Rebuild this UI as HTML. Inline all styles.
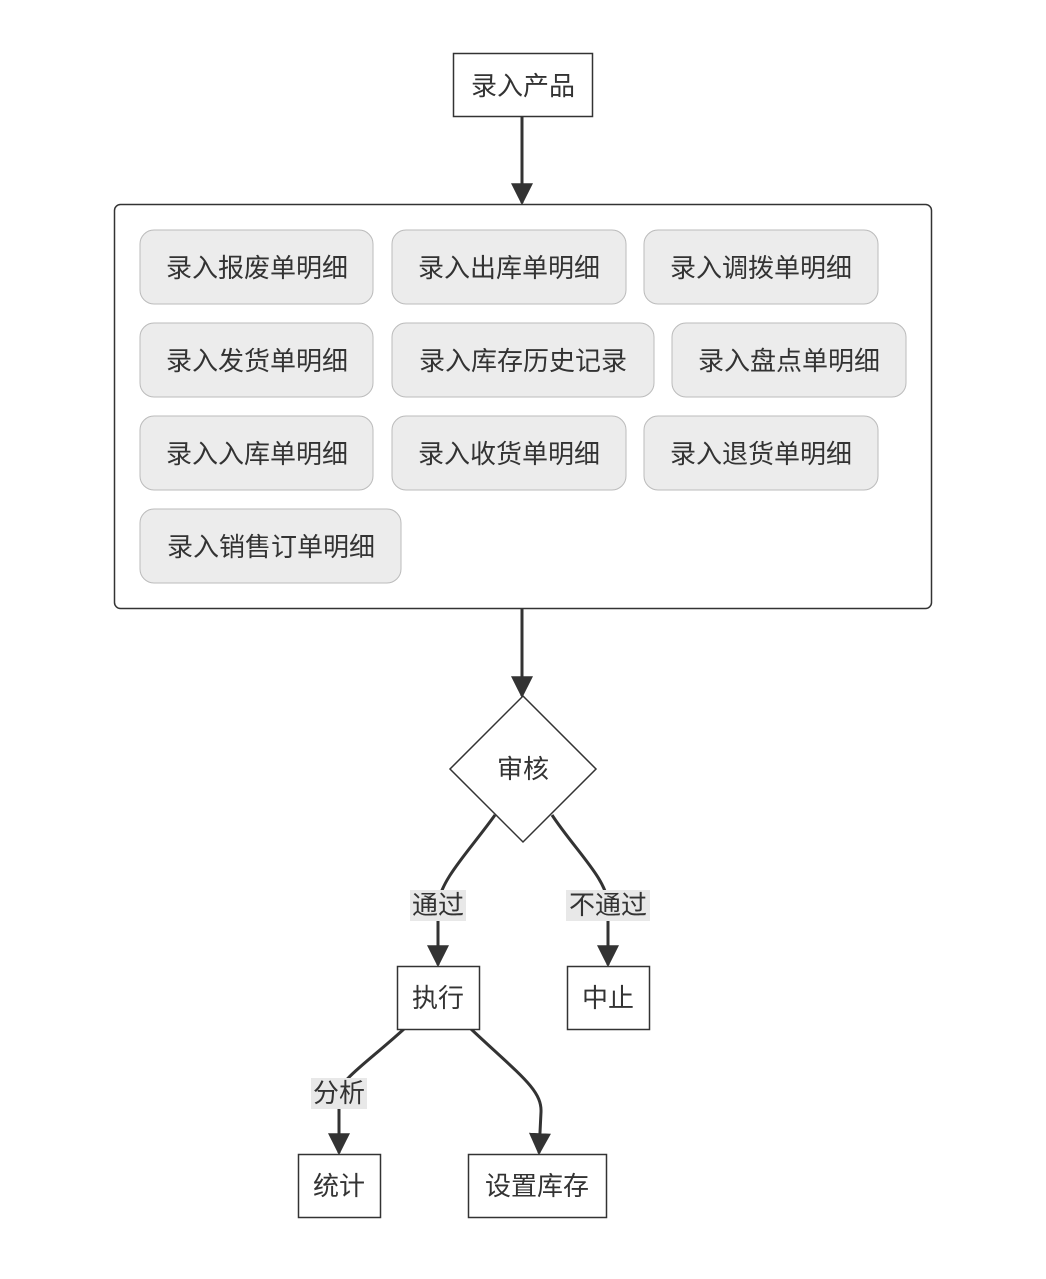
<!DOCTYPE html>
<html><head><meta charset="utf-8"><style>
html,body{margin:0;padding:0;background:#fff;}
svg text{font-family:"Liberation Sans","Noto Sans CJK SC",sans-serif;font-size:26px;fill:#333;}
</style></head><body>
<svg width="1046" height="1274" viewBox="0 0 1046 1274" xmlns="http://www.w3.org/2000/svg">
<defs><marker id="a" viewBox="0 0 10 10" refX="9" refY="5" markerWidth="7" markerHeight="7" markerUnits="userSpaceOnUse" orient="auto"><path d="M0,0 L10,5 L0,10 z" fill="#333"/></marker>
<marker id="b" viewBox="0 0 10 10" refX="9" refY="5" markerWidth="22" markerHeight="22" markerUnits="userSpaceOnUse" orient="auto"><path d="M0,0 L10,5 L0,10 z" fill="#333"/></marker></defs>
<g fill="none" stroke="#333" stroke-width="3">
<path d="M522,116 L522,203" marker-end="url(#b)"/>
<path d="M522,608 L522,696" marker-end="url(#b)"/>
<path d="M495,815 C470,850 440,880 438,905 L438,965" marker-end="url(#b)"/>
<path d="M552,815 C575,850 608,880 608,905 L608,965" marker-end="url(#b)"/>
<path d="M404,1029 C370,1060 340,1080 339,1093 L339,1153" marker-end="url(#b)"/>
<path d="M471,1029 C520,1075 542,1090 541,1112 L539,1153" marker-end="url(#b)"/>
</g>
<g fill="#fff" stroke="#333" stroke-width="1.5">
<rect x="453.5" y="53.5" width="139" height="63"/>
<rect x="114.5" y="204.5" width="817" height="404" rx="6"/>
<polygon points="523,696 596,769 523,842 450,769"/>
<rect x="397.5" y="966.5" width="82" height="63"/>
<rect x="567.5" y="966.5" width="82" height="63"/>
<rect x="298.5" y="1154.5" width="82" height="63"/>
<rect x="468.5" y="1154.5" width="138" height="63"/>
</g>
<g fill="#ececec" stroke="#bbb" stroke-width="1">
<rect x="140" y="230" width="233" height="74" rx="14"/>
<rect x="392" y="230" width="234" height="74" rx="14"/>
<rect x="644" y="230" width="234" height="74" rx="14"/>
<rect x="140" y="323" width="233" height="74" rx="14"/>
<rect x="392" y="323" width="262" height="74" rx="14"/>
<rect x="672" y="323" width="234" height="74" rx="14"/>
<rect x="140" y="416" width="233" height="74" rx="14"/>
<rect x="392" y="416" width="234" height="74" rx="14"/>
<rect x="644" y="416" width="234" height="74" rx="14"/>
<rect x="140" y="509" width="261" height="74" rx="14"/>
</g>
<g fill="#e8e8e8">
<rect x="410" y="890" width="56" height="31"/>
<rect x="566" y="890" width="84" height="31"/>
<rect x="311" y="1078" width="56" height="31"/>
</g>
<g text-anchor="middle" dominant-baseline="central">
<text x="523" y="86">录入产品</text>
<text x="257" y="268">录入报废单明细</text>
<text x="509" y="268">录入出库单明细</text>
<text x="761" y="268">录入调拨单明细</text>
<text x="257" y="361">录入发货单明细</text>
<text x="523" y="361">录入库存历史记录</text>
<text x="789" y="361">录入盘点单明细</text>
<text x="257" y="454">录入入库单明细</text>
<text x="509" y="454">录入收货单明细</text>
<text x="761" y="454">录入退货单明细</text>
<text x="271" y="547">录入销售订单明细</text>
<text x="523" y="769">审核</text>
<text x="438" y="905">通过</text>
<text x="608" y="905">不通过</text>
<text x="438" y="998">执行</text>
<text x="608" y="998">中止</text>
<text x="339" y="1093">分析</text>
<text x="339" y="1186">统计</text>
<text x="537" y="1186">设置库存</text>
</g>
</svg>
</body></html>
